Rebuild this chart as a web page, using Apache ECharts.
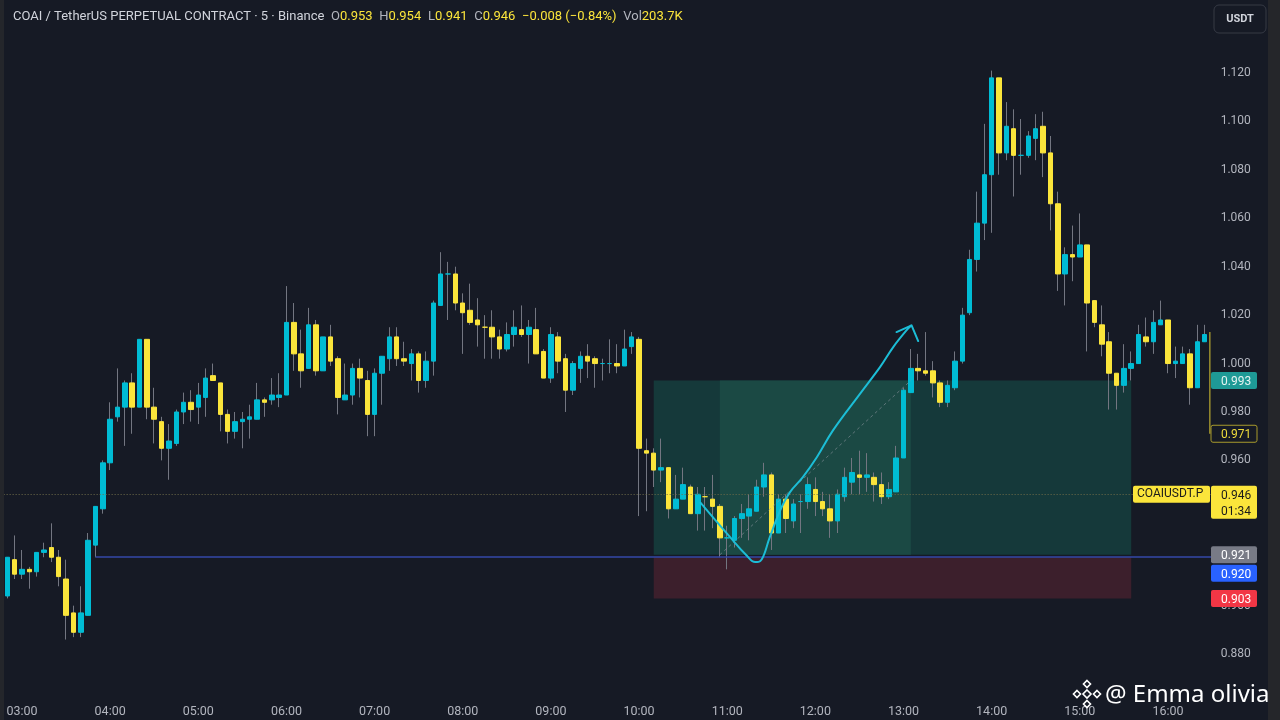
<!DOCTYPE html>
<html>
<head>
<meta charset="utf-8">
<title>COAIUSDT.P 5m</title>
<script src="https://cdn.jsdelivr.net/npm/echarts@6.0.0/dist/echarts.min.js"></script>
<style>
  html, body { margin: 0; padding: 0; background: #161a25; }
  #chart { width: 1280px; height: 720px; }
</style>
</head>
<body>
<div id="chart"></div>
<script>
// 5 min bars, first one at 02:50, one empty slot kept after the last bar
const START_MIN = 2 * 60 + 50;
const STEP_MIN = 5;
const BAR_COUNT = 165;

const opens = [
  0.904, 0.919, 0.913, 0.915, 0.914, 0.922, 0.924, 0.920, 0.911, 0.897,
  0.889, 0.896, 0.925, 0.940, 0.959, 0.978, 0.982, 0.992, 0.982, 1.010,
  0.982, 0.976, 0.965, 0.967, 0.980, 0.984, 0.982, 0.986, 0.995, 0.992,
  0.979, 0.972, 0.976, 0.977, 0.977, 0.985, 0.985, 0.986, 0.987, 1.017,
  1.004, 0.998, 1.016, 0.997, 1.011, 1.002, 0.985, 0.987, 0.998, 0.993,
  0.979, 0.996, 1.002, 1.011, 1.002, 1.000, 1.004, 0.993, 1.001, 1.024,
  1.037, 1.037, 1.025, 1.022, 1.018, 1.015, 1.015, 1.011, 1.006, 1.012,
  1.014, 1.012, 1.014, 1.005, 0.994, 1.011, 1.002, 0.989, 0.998, 1.003,
  1.002, 1.000, 1.000, 1.000, 0.999, 1.007, 1.010, 0.964, 0.963, 0.956,
  0.957, 0.940, 0.944, 0.949, 0.938, 0.945, 0.944, 0.941, 0.928, 0.927,
  0.936, 0.937, 0.939, 0.949, 0.954, 0.930, 0.944, 0.935, 0.943, 0.943,
  0.948, 0.943, 0.940, 0.935, 0.945, 0.951, 0.954, 0.953, 0.953, 0.950,
  0.945, 0.947, 0.961, 0.988, 0.998, 0.997, 0.997, 0.992, 0.984, 0.990,
  1.001, 1.021, 1.043, 1.058, 1.078, 1.118, 1.087, 1.097, 1.086, 1.086,
  1.093, 1.098, 1.087, 1.066, 1.037, 1.045, 1.044, 1.049, 1.026, 1.016,
  1.009, 0.996, 0.991, 0.998, 1.000, 1.011, 1.009, 1.016, 1.018, 1.000,
  1.000, 1.004, 0.990, 1.009
];
const closes = [
  0.920, 0.913, 0.915, 0.914, 0.922, 0.923, 0.920, 0.912, 0.896, 0.889,
  0.897, 0.927, 0.941, 0.959, 0.977, 0.982, 0.992, 0.982, 1.010, 0.982,
  0.977, 0.965, 0.968, 0.980, 0.984, 0.981, 0.987, 0.994, 0.993, 0.979,
  0.972, 0.976, 0.977, 0.978, 0.985, 0.984, 0.987, 0.987, 1.017, 1.004,
  0.997, 1.016, 0.997, 1.011, 1.001, 0.986, 0.987, 0.998, 0.994, 0.979,
  0.996, 1.003, 1.011, 1.002, 1.001, 1.004, 0.993, 1.001, 1.025, 1.037,
  1.037, 1.025, 1.021, 1.017, 1.016, 1.015, 1.011, 1.006, 1.012, 1.015,
  1.012, 1.015, 1.004, 0.994, 1.012, 1.001, 0.989, 1.000, 1.003, 1.001,
  1.000, 1.000, 1.000, 0.999, 1.006, 1.011, 0.965, 0.963, 0.956, 0.957,
  0.940, 0.944, 0.950, 0.938, 0.946, 0.945, 0.941, 0.928, 0.928, 0.936,
  0.938, 0.940, 0.949, 0.954, 0.930, 0.944, 0.936, 0.942, 0.943, 0.950,
  0.943, 0.940, 0.935, 0.946, 0.953, 0.955, 0.953, 0.954, 0.950, 0.945,
  0.948, 0.961, 0.989, 0.998, 0.997, 0.996, 0.992, 0.984, 0.991, 1.001,
  1.020, 1.043, 1.058, 1.078, 1.118, 1.087, 1.098, 1.086, 1.086, 1.094,
  1.097, 1.087, 1.066, 1.037, 1.045, 1.044, 1.049, 1.025, 1.017, 1.008,
  0.996, 0.991, 0.998, 1.000, 1.012, 1.009, 1.017, 1.018, 1.000, 1.001,
  1.004, 0.990, 1.009, 1.012
];
const lows = [
  0.903, 0.911, 0.911, 0.907, 0.912, 0.920, 0.918, 0.908, 0.886, 0.887,
  0.887, 0.896, 0.920, 0.938, 0.956, 0.976, 0.966, 0.971, 0.982, 0.977,
  0.967, 0.960, 0.952, 0.966, 0.975, 0.976, 0.975, 0.978, 0.993, 0.972,
  0.967, 0.969, 0.965, 0.969, 0.977, 0.978, 0.983, 0.982, 0.987, 0.997,
  0.990, 0.998, 0.995, 0.997, 0.999, 0.979, 0.985, 0.983, 0.986, 0.970,
  0.970, 0.983, 0.997, 0.999, 0.999, 0.993, 0.988, 0.990, 0.995, 1.024,
  1.018, 1.022, 1.004, 1.016, 1.007, 1.002, 1.002, 1.002, 1.005, 1.007,
  1.011, 1.000, 1.004, 0.994, 0.992, 0.996, 0.980, 0.987, 0.992, 0.994,
  0.990, 0.993, 0.996, 0.996, 0.999, 1.004, 0.937, 0.939, 0.949, 0.951,
  0.936, 0.940, 0.944, 0.938, 0.931, 0.931, 0.932, 0.920, 0.915, 0.924,
  0.928, 0.927, 0.939, 0.945, 0.923, 0.930, 0.930, 0.932, 0.930, 0.940,
  0.937, 0.937, 0.928, 0.930, 0.943, 0.946, 0.946, 0.947, 0.943, 0.942,
  0.944, 0.947, 0.961, 0.988, 0.993, 0.995, 0.986, 0.982, 0.982, 0.989,
  1.000, 1.020, 1.038, 1.051, 1.054, 1.078, 1.084, 1.069, 1.078, 1.085,
  1.084, 1.077, 1.055, 1.030, 1.024, 1.034, 1.044, 1.005, 1.015, 1.003,
  0.981, 0.981, 0.988, 0.993, 1.000, 1.007, 1.004, 1.016, 0.996, 0.994,
  1.000, 0.983, 0.990, 1.009
];
const highs = [
  0.920, 0.929, 0.923, 0.916, 0.922, 0.926, 0.934, 0.923, 0.919, 0.900,
  0.908, 0.930, 0.941, 0.960, 0.984, 0.998, 0.993, 0.996, 1.010, 1.010,
  0.990, 0.978, 0.975, 0.981, 0.988, 0.989, 0.992, 0.998, 1.000, 0.992,
  0.981, 0.980, 0.980, 0.983, 0.992, 0.986, 0.994, 0.996, 1.032, 1.025,
  1.014, 1.023, 1.018, 1.011, 1.016, 1.003, 1.000, 1.000, 1.002, 0.997,
  0.998, 1.003, 1.015, 1.015, 1.009, 1.006, 1.005, 1.005, 1.026, 1.046,
  1.042, 1.040, 1.029, 1.033, 1.027, 1.020, 1.022, 1.014, 1.017, 1.022,
  1.024, 1.018, 1.023, 1.006, 1.015, 1.013, 1.004, 1.001, 1.005, 1.008,
  1.003, 1.002, 1.010, 1.008, 1.014, 1.013, 1.011, 0.969, 0.965, 0.969,
  0.957, 0.954, 0.957, 0.950, 0.949, 0.949, 0.954, 0.942, 0.933, 0.937,
  0.942, 0.946, 0.952, 0.959, 0.955, 0.946, 0.946, 0.944, 0.946, 0.953,
  0.953, 0.947, 0.946, 0.948, 0.957, 0.961, 0.964, 0.963, 0.955, 0.955,
  0.951, 0.966, 0.990, 1.006, 1.004, 1.013, 1.001, 0.993, 0.993, 1.005,
  1.023, 1.047, 1.071, 1.099, 1.121, 1.118, 1.108, 1.105, 1.101, 1.096,
  1.103, 1.104, 1.094, 1.071, 1.048, 1.057, 1.062, 1.049, 1.026, 1.024,
  1.013, 0.996, 1.008, 1.005, 1.016, 1.019, 1.022, 1.026, 1.018, 1.007,
  1.007, 1.006, 1.016, 1.016
];

// header (hovered bar values)
const headerTitle = "COAI / TetherUS PERPETUAL CONTRACT · 5 · Binance";
const headerOhlc = ["0.953", "0.954", "0.941", "0.946"];
const headerChange = "−0.008 (−0.84%)";
const headerVolume = "203.7K";

// long position tool
const entryPrice = 0.921;
const targetPrice = 0.993;
const stopPrice = 0.903;
const positionBars = [88, 153];
const tradeBars = [97, 123];

// horizontal levels
const lastPrice = 0.946;
const countdown = "01:34";
const supportPrice = 0.920;
const supportFromBar = 12;
const rangeLabelPrice = 0.971;
const rangeLine = [[163.7, 1.013], [163.7, 0.971]];

// hand drawn arrow, [bar index, price]
const drawnPath = [
  [94.3, 0.9428], [98.4, 0.9283], [100.65, 0.9207], [101.8, 0.918],
  [102.5, 0.9184], [103.8, 0.9283], [105.2, 0.9393], [106.55, 0.9469],
  [108.3, 0.9531], [110.2, 0.9613], [112.4, 0.9724], [116.1, 0.9876],
  [118.8, 0.9985], [120.6, 1.0068], [122.4, 1.0137], [123.1, 1.0158]
];
const drawnArrow = [[121.05, 1.013], [123.1, 1.0158], [124.0, 1.0093]];

const UP = "#00bcd4";
const DOWN = "#fbe53b";
const WICK = "#737681";
const TEXT = "#b2b5be";
const FONT = "Roboto, 'Noto Sans', sans-serif";

const times = [];
for (let i = 0; i < BAR_COUNT; i++) {
  const m = START_MIN + i * STEP_MIN;
  times.push(String(Math.floor(m / 60)).padStart(2, "0") + ":" + String(m % 60).padStart(2, "0"));
}

const wickData = opens.map((o, i) => [o, closes[i], lows[i], highs[i]]);
const bodyData = opens.map((o, i) => [o, closes[i], Math.min(o, closes[i]), Math.max(o, closes[i])]);

const chart = echarts.init(document.getElementById("chart"));

chart.setOption({
  backgroundColor: "#161a25",
  animation: false,
  grid: { left: 3.63, right: 64.3, top: 24.6, bottom: 17.5, outerBoundsMode: "none" },
  xAxis: [
    {
      type: "category",
      data: times,
      boundaryGap: true,
      axisLine: { show: false },
      axisTick: { show: false },
      splitLine: { show: false },
      axisLabel: {
        interval: (idx, val) => val.endsWith(":00"),
        color: TEXT,
        fontSize: 12.5,
        fontFamily: FONT,
        margin: 3,
      },
    },
    { type: "value", min: -0.5, max: BAR_COUNT - 0.5, show: false },
  ],
  yAxis: {
    type: "value",
    position: "right",
    min: 0.86,
    max: 1.14,
    interval: 0.02,
    axisLine: { show: false },
    axisTick: { show: false },
    splitLine: { show: false },
    axisLabel: {
      color: TEXT,
      fontSize: 12,
      fontFamily: FONT,
      margin: 5,
      showMinLabel: false,
      showMaxLabel: false,
      formatter: (v) => v.toFixed(3),
    },
  },
  series: [
    {
      name: "zones",
      type: "line",
      xAxisIndex: 1,
      data: [],
      z: 1,
      silent: true,
      markArea: {
        silent: true,
        z: 1,
        data: [
          [
            { xAxis: positionBars[0], yAxis: entryPrice, itemStyle: { color: "#15393a" } },
            { xAxis: positionBars[1], yAxis: targetPrice },
          ],
          [
            { xAxis: tradeBars[0], yAxis: entryPrice, itemStyle: { color: "#1b4944" } },
            { xAxis: tradeBars[1], yAxis: targetPrice },
          ],
          [
            { xAxis: positionBars[0], yAxis: stopPrice, itemStyle: { color: "#3c1f2c" } },
            { xAxis: positionBars[1], yAxis: supportPrice },
          ],
        ],
      },
    },
    {
      name: "wicks",
      type: "candlestick",
      data: wickData,
      barWidth: 1,
      z: 2,
      silent: true,
      itemStyle: { color: WICK, color0: WICK, borderColor: WICK, borderColor0: WICK, borderWidth: 1 },
    },
    {
      name: "bodies",
      type: "candlestick",
      data: bodyData,
      barWidth: 5,
      z: 3,
      silent: true,
      itemStyle: { color: UP, color0: DOWN, borderColor: UP, borderColor0: DOWN, borderWidth: 1 },
    },
    {
      name: "lastPrice",
      type: "line",
      xAxisIndex: 1,
      data: [],
      z: 5,
      markLine: {
        silent: true,
        precision: 3,
        symbol: ["none", "none"],
        label: { show: false },
        lineStyle: { color: "#6f6c48", type: [1, 2], width: 1 },
        data: [{ yAxis: lastPrice }],
      },
    },
    {
      name: "support",
      type: "line",
      xAxisIndex: 1,
      data: [],
      z: 5,
      markLine: {
        silent: true,
        precision: 3,
        symbol: ["none", "none"],
        label: { show: false },
        lineStyle: { color: "#3548a8", type: "solid", width: 1.5 },
        data: [[{ coord: [supportFromBar, supportPrice] }, { coord: [BAR_COUNT - 0.5, supportPrice] }]],
      },
    },
    {
      name: "trade",
      type: "line",
      xAxisIndex: 1,
      data: [[tradeBars[0], entryPrice], [tradeBars[1], targetPrice]],
      symbol: "none",
      z: 4,
      silent: true,
      lineStyle: { color: "rgba(150,154,165,0.55)", width: 1, type: [3, 3] },
    },
    {
      name: "range",
      type: "line",
      xAxisIndex: 1,
      data: rangeLine,
      symbol: "none",
      z: 4,
      silent: true,
      lineStyle: { color: "#9a8e2e", width: 1.5 },
    },
    {
      name: "drawing",
      type: "line",
      xAxisIndex: 1,
      data: drawnPath,
      smooth: 0.4,
      symbol: "none",
      z: 6,
      silent: true,
      lineStyle: { color: "#1cbdd6", width: 2 },
    },
    {
      name: "arrow",
      type: "line",
      xAxisIndex: 1,
      data: drawnArrow,
      symbol: "none",
      z: 6,
      silent: true,
      lineStyle: { color: "#1cbdd6", width: 2, cap: "round", join: "round" },
    },
  ],
});

// price tags on the right scale, placed from the y axis
const yPx = (p) => chart.convertToPixel({ yAxisIndex: 0 }, p);
const TAG_X = 1211;
const TAG_W = 46;
const TOP_Z = 100;

function tag(id, price, lines, fill, textFill, stroke, shift) {
  const top = yPx(price) - 8.5 + (shift || 0);
  const h = 17 + (lines.length - 1) * 16;
  return [
    {
      type: "rect",
      id: id + "Box",
      z: TOP_Z,
      shape: { x: TAG_X, y: top, width: TAG_W, height: h, r: 2 },
      style: { fill, stroke: stroke || null, lineWidth: 1 },
    },
    {
      type: "text",
      id: id + "Text",
      z: TOP_Z + 1,
      x: TAG_X + 10,
      y: top + 2,
      style: {
        text: lines.join("\n"),
        fill: textFill,
        fontSize: 12,
        fontFamily: FONT,
        lineHeight: 16,
        verticalAlign: "top",
      },
    },
  ];
}

const tags = [].concat(
  tag("t993", targetPrice, [targetPrice.toFixed(3)], "#1e9a96", "#e6f4f2"),
  tag("t971", rangeLabelPrice, [rangeLabelPrice.toFixed(3)], "#161a25", "#efdc3c", "#a89a2c"),
  tag("t946", lastPrice, [lastPrice.toFixed(3), countdown], DOWN, "#1b1b1b"),
  tag("t921", entryPrice, [entryPrice.toFixed(3)], "#787b86", "#ffffff"),
  tag("t920", supportPrice, [supportPrice.toFixed(3)], "#2962ff", "#ffffff", null, 16),
  tag("t903", stopPrice, [stopPrice.toFixed(3)], "#f23645", "#ffffff"),
  [
    {
      type: "rect",
      id: "symbolBox",
      z: TOP_Z,
      shape: { x: 1133, y: yPx(lastPrice) - 8.5, width: 77, height: 17, r: 2 },
      style: { fill: DOWN },
    },
    {
      type: "text",
      id: "symbolText",
      z: TOP_Z + 1,
      x: 1137,
      y: yPx(lastPrice),
      style: { text: "COAIUSDT.P", fill: "#1b1b1b", fontSize: 12, fontFamily: FONT, verticalAlign: "middle" },
    },
  ]
);

const valueStyle = { fill: DOWN, fontSize: 13, fontFamily: FONT };
const keyStyle = { fill: TEXT, fontSize: 13, fontFamily: FONT };

function diamond(id, cx, cy, half) {
  return {
    type: "polygon",
    id,
    z: TOP_Z + 10,
    shape: { points: [[cx, cy - half], [cx + half, cy], [cx, cy + half], [cx - half, cy]] },
    style: { fill: null, stroke: "#ffffff", lineWidth: 1.6 },
  };
}

const chrome = [
  { type: "rect", id: "leftEdge", z: 90, shape: { x: 0, y: 0, width: 4, height: 720 }, style: { fill: "#24262b" } },
  { type: "rect", id: "rightEdge", z: 90, shape: { x: 1268, y: 0, width: 12, height: 720 }, style: { fill: "#25262a" } },
  {
    type: "text",
    id: "header",
    z: TOP_Z,
    x: 13,
    y: 17,
    style: {
      text:
        "{t|" + headerTitle + "}  " +
        "{k|O}{v|" + headerOhlc[0] + "}  {k|H}{v|" + headerOhlc[1] + "}  " +
        "{k|L}{v|" + headerOhlc[2] + "}  {k|C}{v|" + headerOhlc[3] + "}  " +
        "{v|" + headerChange + "}  {k|Vol}{v|" + headerVolume + "}",
      verticalAlign: "middle",
      rich: {
        t: { fill: "#d1d4dc", fontSize: 13, fontFamily: FONT },
        k: keyStyle,
        v: valueStyle,
      },
    },
  },
  {
    type: "rect",
    id: "unitBox",
    z: TOP_Z,
    shape: { x: 1214, y: 5, width: 52, height: 28, r: 5 },
    style: { fill: "#161a25", stroke: "#363a45", lineWidth: 1 },
  },
  {
    type: "text",
    id: "unitText",
    z: TOP_Z + 1,
    x: 1240,
    y: 19,
    style: { text: "USDT", fill: "#d1d4dc", fontSize: 11, fontWeight: "bold", fontFamily: FONT, align: "center", verticalAlign: "middle" },
  },
  diamond("logoC", 1087, 694, 4),
  diamond("logoT", 1087, 684, 3.5),
  diamond("logoB", 1087, 704, 3.5),
  diamond("logoL", 1077, 694, 3.5),
  diamond("logoR", 1097, 694, 3.5),
  {
    type: "text",
    id: "signature",
    z: TOP_Z + 10,
    x: 1105,
    y: 695,
    style: { text: "@ Emma olivia", fill: "#ffffff", fontSize: 24, fontFamily: "'Noto Sans', Roboto, sans-serif", verticalAlign: "middle" },
  },
];

chart.setOption({ graphic: { elements: chrome.concat(tags) } });
</script>
</body>
</html>
